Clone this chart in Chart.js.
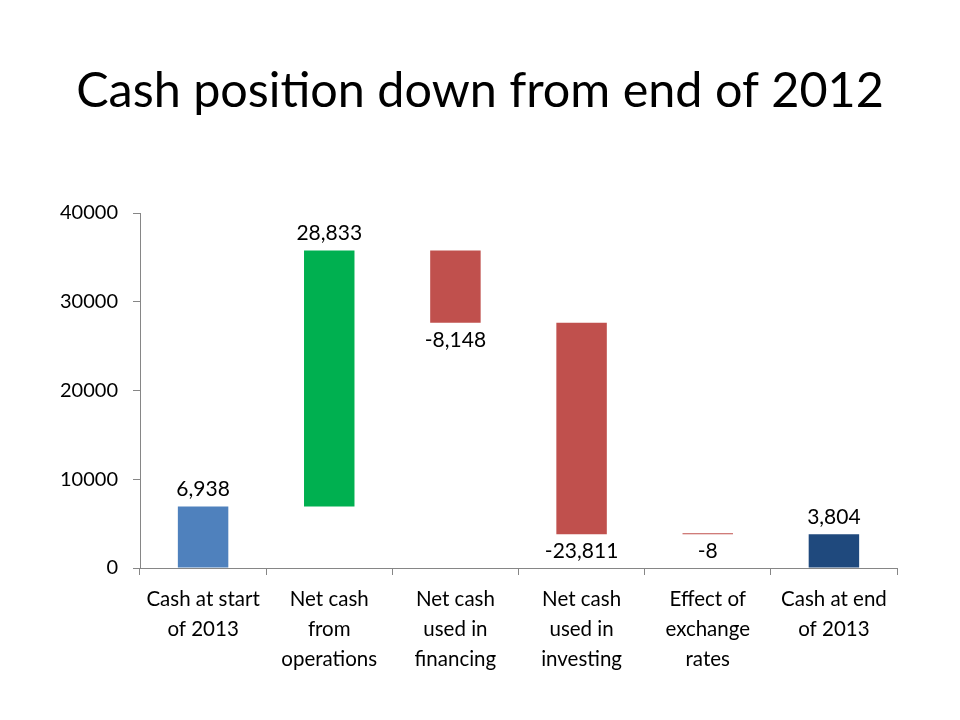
<!DOCTYPE html>
<html><head><meta charset="utf-8">
<script src="https://cdn.jsdelivr.net/npm/chart.js@4"></script>
<style>html,body{margin:0;padding:0;background:#fff}#wrap{width:960px;height:720px}</style>
</head><body><div id="wrap"><canvas id="c" width="960" height="720"></canvas></div>
<script>
const titleText = "Cash position down from end of 2012";
const categories = [["Cash at start","of 2013"],["Net cash","from","operations"],["Net cash","used in","financing"],["Net cash","used in","investing"],["Effect of","exchange","rates"],["Cash at end","of 2013"]];
const lows  = [0, 6938, 27623, 3812, 3804, 0];
const highs = [6938, 35771, 35771, 27623, 3812, 3804];
const changes = [6938, 28833, -8148, -23811, -8, 3804];
const valueLabels = ["6,938","28,833","-8,148","-23,811","-8","3,804"];
const barColors = ["#4F81BD","#00B050","#C0504D","#C0504D","#C0504D","#1F497D"];
const yTicks = [0, 10000, 20000, 30000, 40000];

const FONT = "Lato, 'Open Sans', sans-serif";

const titlePlugin = {
  id: 'titleDraw',
  afterDraw(chart) {
    const ctx = chart.ctx;
    ctx.save();
    ctx.fillStyle = '#000';
    ctx.font = "48.5px " + FONT;
    ctx.textAlign = 'center';
    ctx.textBaseline = 'middle';
    ctx.fillText(titleText, 480, 91);
    ctx.restore();
  }
};
const labelPlugin = {
  id: 'valLabels',
  afterDatasetsDraw(chart) {
    const ctx = chart.ctx;
    const meta = chart.getDatasetMeta(0);
    ctx.save();
    ctx.fillStyle = '#000';
    ctx.font = "21px " + FONT;
    ctx.textAlign = 'center';
    ctx.textBaseline = 'middle';
    meta.data.forEach((bar, i) => {
      const top = Math.min(bar.y, bar.base);
      const bottom = Math.max(bar.y, bar.base);
      if (changes[i] >= 0) ctx.fillText(valueLabels[i], bar.x, top - 17);
      else ctx.fillText(valueLabels[i], bar.x, bottom + 17);
    });
    ctx.restore();
  }
};

new Chart(document.getElementById('c'), {
  type: 'bar',
  data: {
    labels: categories,
    datasets: [{
      data: lows.map((l, i) => [l, highs[i]]),
      backgroundColor: barColors,
      borderWidth: 0,
      minBarLength: 1,
      barPercentage: 0.4,
      categoryPercentage: 1.0
    }]
  },
  options: {
    responsive: false,
    animation: false,
    layout: { padding: { left: 40, right: 63, top: 213, bottom: 12 } },
    plugins: { legend: { display: false }, title: { display: false }, tooltip: { enabled: false } },
    scales: {
      x: {
        afterFit(s) { s.height = 140; },
        grid: { offset: true, drawOnChartArea: false, tickLength: 7, color: '#868686' },
        border: { color: '#868686' },
        ticks: { color: '#000', font: { family: FONT, size: 20.5, lineHeight: 1.45 }, padding: 10, maxRotation: 0, autoSkip: false }
      },
      y: {
        min: 0, max: 40000,
        afterFit(s) { s.width = 100; },
        afterBuildTicks(s) { s.ticks = yTicks.map(v => ({ value: v })); },
        grid: { drawOnChartArea: false, tickLength: 7, color: '#868686' },
        border: { color: '#868686' },
        ticks: { color: '#000', font: { family: FONT, size: 20 }, padding: 15, callback: v => String(v) }
      }
    }
  },
  plugins: [titlePlugin, labelPlugin]
});
</script></body></html>
